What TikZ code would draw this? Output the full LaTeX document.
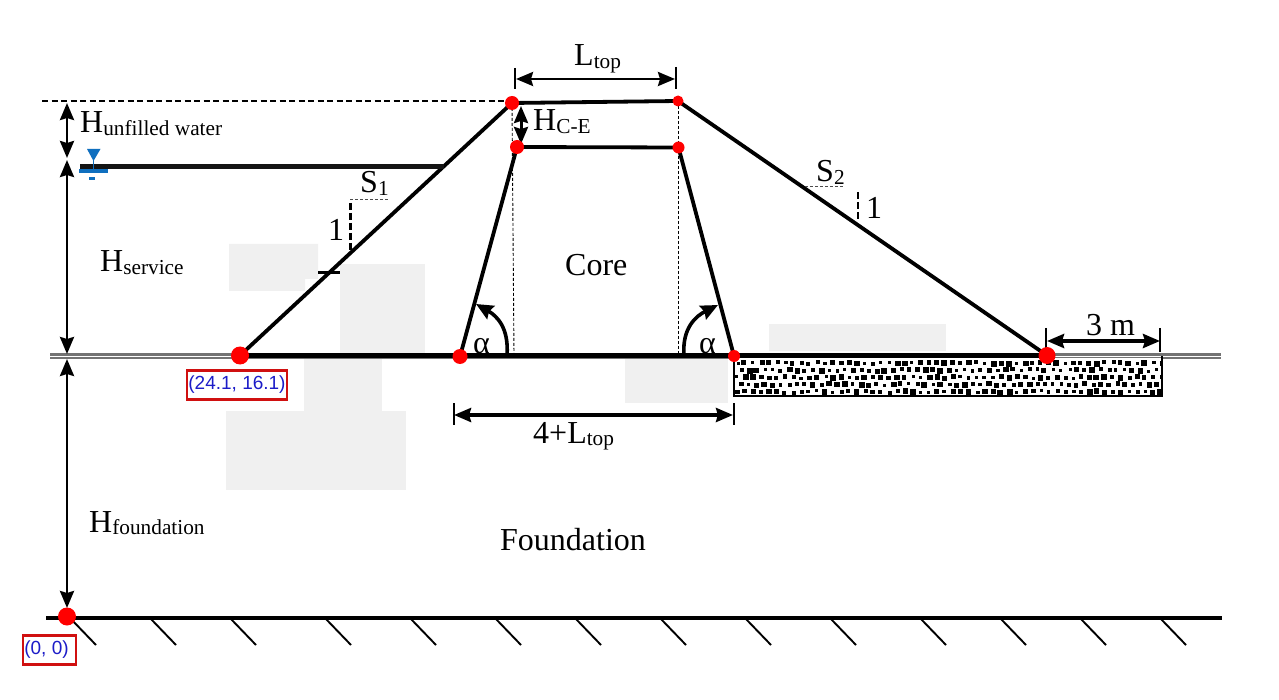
\documentclass[tikz,border=0pt]{standalone}
\usepackage{fontspec}
\setmainfont{Liberation Serif}
\newfontfamily\labelsans{Liberation Sans}
\usetikzlibrary{arrows.meta}
\pgfdeclarelayer{front}
\pgfsetlayers{main,front}
\definecolor{patchgrey}{HTML}{F0F0F0}
\definecolor{dotred}{HTML}{FF0000}
\definecolor{waterblue}{HTML}{0F6FBF}
\definecolor{labelblue}{HTML}{1C1CC8}
\definecolor{boxred}{HTML}{D01010}
\tikzset{
  dot/.style={circle,fill=dotred,inner sep=0pt,minimum size=#1},
  wall/.style={line width=3.8pt,black},
  dimline/.style={line width=2.8pt,black,{Stealth[length=17pt,width=14pt,inset=2pt]}-{Stealth[length=17pt,width=14pt,inset=2pt]}},
  thinmark/.style={line width=2pt,black},
  guide/.style={line width=0.9pt,black,dash pattern=on 3pt off 2pt},
  slopemark/.style={line width=2.2pt,black,dash pattern=on 7pt off 3pt},
  patch/.style={fill=patchgrey,draw=none},
  lab/.style={inner sep=0pt,font=\fontsize{32}{34}\selectfont,text=black},
  coordbox/.style={draw=boxred,line width=2.4pt,fill=white,text=labelblue,inner sep=0pt,font=\labelsans\fontsize{19}{21}\selectfont,align=center},
  tick/.style={line width=1.9pt,black}
}
\newcommand{\subs}[2]{#1\raisebox{-2.3pt}{\fontsize{21.3}{23}\selectfont #2}}
\begin{document}
\begin{tikzpicture}[x=1pt,y=-1pt]
\useasboundingbox (0,0) rectangle (1279,700);
\fill[white] (0,0) rectangle (1279,700);
% grey patches
\fill[patch] (229,244) -- (318,244) -- (318,279) -- (305,279) -- (305,291) -- (229,291) -- cycle;
\fill[patch] (340,264) rectangle (425,354);
\fill[patch] (304,358) rectangle (382,411);
\fill[patch] (226,411) rectangle (406,490);
\fill[patch] (625,358) rectangle (728,403);
\fill[patch] (769,324) rectangle (946,351);
% named points, drawn above the lines
\begin{pgfonlayer}{front}
\node[dot=18pt] (toeL) at (240,355.5) {};
\node[dot=14pt] (crestL) at (512,103) {};
\node[dot=11pt] (crestR) at (678,101) {};
\node[dot=17pt] (toeR) at (1047,355.5) {};
\node[dot=14pt] (coreTL) at (517,147) {};
\node[dot=12pt] (coreTR) at (678.5,147.5) {};
\node[dot=15pt] (coreBL) at (460,356.5) {};
\node[dot=12pt] (coreBR) at (734,356) {};
\node[dot=18pt] (origin) at (67,616.5) {};
\end{pgfonlayer}
\coordinate (baseL) at (50,356);
\coordinate (baseR) at (1221,356);
\coordinate (waterL) at (80,166.5);
\coordinate (waterR) at (444,166.5);
\coordinate (topdash) at (42,101);
\coordinate (topdashR) at (512,101);
\coordinate (groundL) at (46,618);
\coordinate (groundR) at (1222,618);
% ground base line
\draw[line width=2.8pt,black!55,double=white,double distance=0.8pt] (baseL) -- (baseR);
% gravel
\fill[white] (734,358) rectangle (1162,396);
\begin{scope}
\clip (735,359) rectangle (1161,395);
\pgfmathsetseed{4217}
\foreach \r in {0,...,4}{
  \foreach \c in {0,...,53}{
    \pgfmathsetmacro{\gx}{737+\c*8+mod(\r,2)*4+rand*1.2}
    \pgfmathsetmacro{\gy}{363+\r*7.2+rand*1.0}
    \pgfmathsetmacro{\gs}{3+abs(rand)*3}
    \fill[black] (\gx-\gs/2,\gy-\gs/2) rectangle (\gx+\gs/2,\gy+\gs/2);
  }
}
\end{scope}
\draw[line width=2.8pt,black] (734,356) -- (734,396) -- (1162,396) -- (1162,356);
% thin guides
\draw[guide] (crestL.center) -- (514,356);
\draw[guide] (crestR.center) -- (678,356);
\draw[line width=1.8pt,black,dash pattern=on 6pt off 3.5pt] (topdash) -- (topdashR);
% dam
\draw[wall] (toeL.center) -- (crestL.center) -- (crestR.center) -- (toeR.center);
\draw[line width=4.6pt,black] (toeL.center) -- (toeR.center);
\draw[wall] (coreBL.center) -- (coreTL.center) -- (coreTR.center) -- (coreBR.center);
% water
\draw[line width=5.2pt,black!92] (waterL) -- (waterR);
\fill[waterblue] (87,149) -- (100.5,149) -- (93.5,161) -- cycle;
\fill[waterblue] (79,169.5) rectangle (108,173);
\fill[waterblue] (88.5,177) rectangle (95,180);
\draw[line width=1.5pt,waterblue] (93.5,160) -- (93.5,170);
% ground
\draw[line width=4pt,black] (groundL) -- (groundR);
\foreach \tx in {70,150,230,325,410,495,575,660,745,830,920,1000,1080,1160}{
  \draw[tick] (\tx,618) -- (\tx+26,645);
}
% dimension lines
\coordinate (dimA) at (67,103);
\coordinate (dimB) at (67,158);
\coordinate (dimC) at (67,160);
\coordinate (dimD) at (67,354);
\coordinate (dimE) at (67,359);
\coordinate (dimF) at (67,608);
\draw[dimline] (dimA) -- (dimB);
\draw[dimline] (dimC) -- (dimD);
\draw[dimline] (dimE) -- (dimF);
% Ltop
\coordinate (lta) at (516,79);
\coordinate (ltb) at (675,79);
\draw[thinmark] (515,68) -- (515,89);
\draw[thinmark] (676,67) -- (676,89);
\draw[dimline,line width=2.6pt] (lta) -- (ltb);
% HC-E
\draw[dimline,line width=3pt] (521,106) -- (521,144);
% 4+Ltop
\coordinate (la) at (454,415);
\coordinate (lb) at (733,415);
\draw[thinmark] (453.5,403) -- (453.5,425);
\draw[thinmark] (733.5,403) -- (733.5,425);
\draw[dimline,line width=3.6pt] (la) -- (lb);
% 3 m
\coordinate (ma) at (1047,341);
\coordinate (mb) at (1160,341);
\draw[thinmark] (1046,328) -- (1046,352);
\draw[thinmark] (1160,328) -- (1160,352);
\draw[dimline,line width=3.6pt] (ma) -- (mb);
% alpha arcs
\draw[line width=3.6pt,black,-{Stealth[length=17pt,width=15pt,inset=2pt]}] (507,355) .. controls (509,328) and (497,316) .. (476,304);
\draw[line width=3.6pt,black,-{Stealth[length=17pt,width=15pt,inset=2pt]}] (684,355) .. controls (682,328) and (696,316) .. (718,305);
% slope marks
\draw[line width=0.9pt,black!70,dash pattern=on 3pt off 2pt] (350,199) -- (388,199);
\draw[slopemark] (350.5,203) -- (350.5,250);
\draw[line width=3pt,black] (318,273) -- (340,273);
\draw[line width=0.9pt,black!70,dash pattern=on 3pt off 2pt] (805,186) -- (843,186);
\draw[slopemark] (858,192) -- (858,221);
% labels
\node[lab,anchor=base west] (hunf) at (80,133) {\subs{H}{unfilled water}};
\node[lab,anchor=base west] (hserv) at (100,272) {\subs{H}{service}};
\node[lab,anchor=base west] (hfound) at (89,532) {\subs{H}{foundation}};
\node[lab,anchor=base west] (hce) at (533,131) {\subs{H}{C-E}};
\node[lab,anchor=base west] (ltop) at (574,66) {\subs{L}{top}};
\node[lab,anchor=base west] (ltopb) at (533,443) {4+\subs{L}{top}};
\node[lab,anchor=base west] (threem) at (1086,336) {3 m};
\node[lab,anchor=base west] (core) at (565,276) {Core};
\node[lab,anchor=base west] (foundn) at (500,550) {Foundation};
\node[lab,anchor=base west] (sone) at (360,193) {\subs{S}{1}};
\node[lab,anchor=base west] (stwo) at (816,182) {\subs{S}{2}};
\node[lab,anchor=base west] (oneL) at (328,241) {1};
\node[lab,anchor=base west] (oneR) at (866,219) {1};
\node[lab,anchor=base west] (alphaL) at (473,353) {α};
\node[lab,anchor=base west] (alphaR) at (699,353) {α};
% coordinate boxes
\node[coordbox,minimum width=100pt,minimum height=29pt] (boxA) at (237,385) {(24.1, 16.1)};
\node[coordbox,minimum width=53pt,minimum height=29pt] (boxB) at (49.5,650) {(0, 0)\hspace{6pt}};
\end{tikzpicture}
\end{document}
